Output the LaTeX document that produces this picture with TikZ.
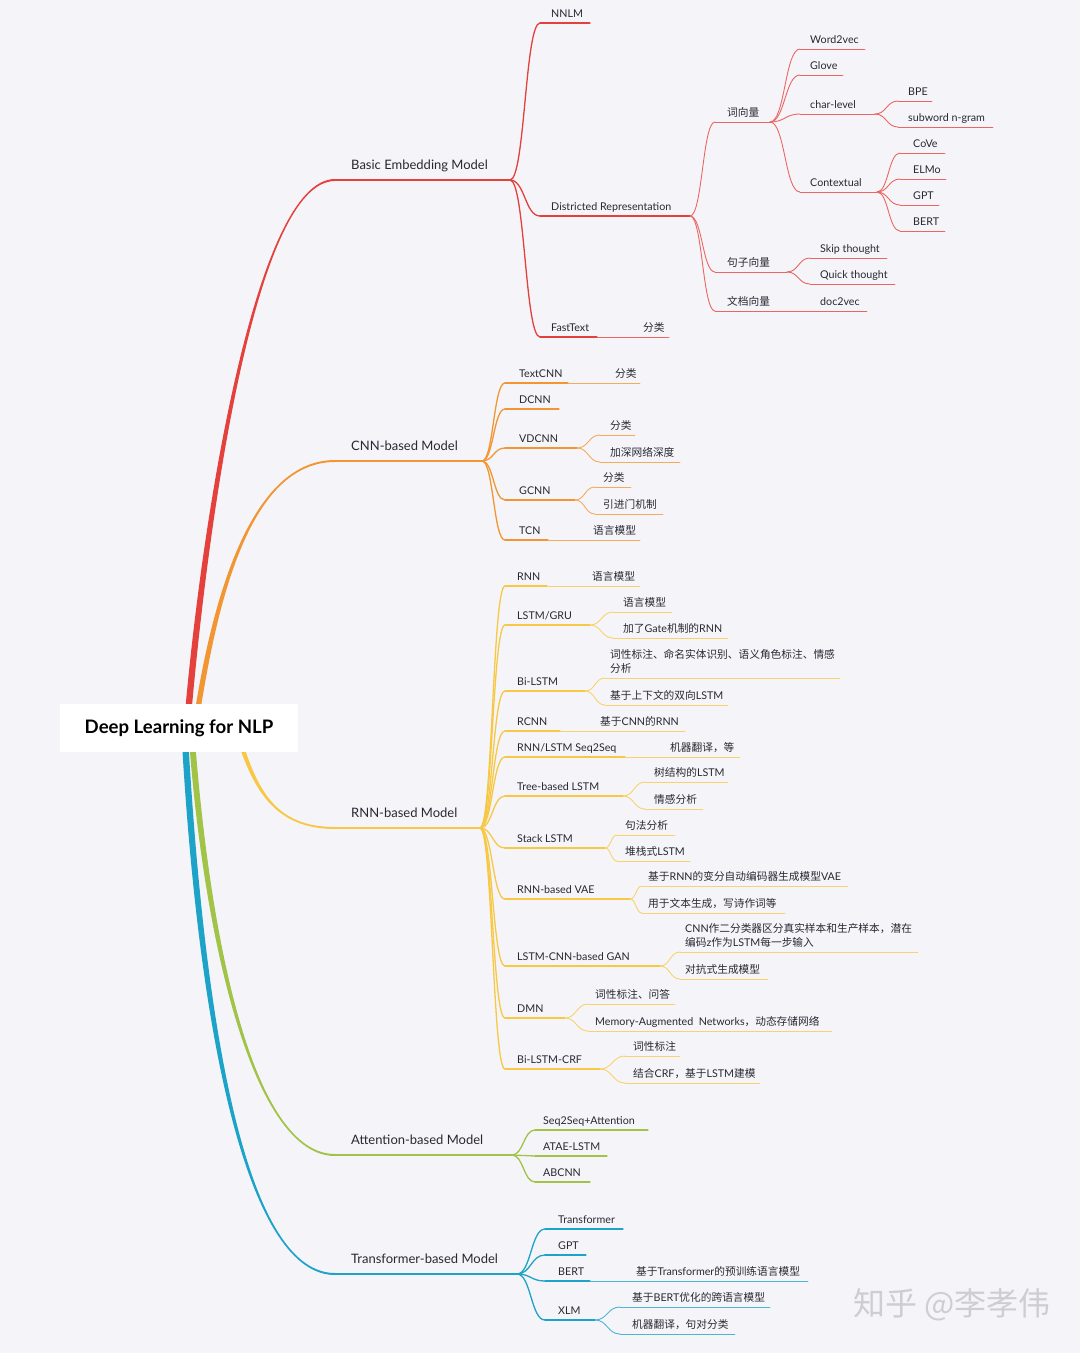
\documentclass[tikz,border=0pt]{standalone}
\usepackage{fontspec}
\setmainfont{Lato}
\newfontfamily\zhf{Noto Sans CJK SC}
\newcommand\zhs[1]{{\zhf #1}}
\usetikzlibrary{calc}
\definecolor{cR}{RGB}{228,64,60}
\definecolor{cO}{RGB}{242,150,52}
\definecolor{cY}{RGB}{246,200,70}
\definecolor{cG}{RGB}{160,195,72}
\definecolor{cB}{RGB}{30,163,200}
\definecolor{bg}{RGB}{245,245,249}
\definecolor{txt}{RGB}{40,40,50}
\definecolor{wm}{RGB}{205,205,210}
\tikzset{
  lbl/.style={anchor=base west, inner sep=0pt, yshift=6pt, text=txt, font=\fontsize{10.7}{14}\selectfont},
  lbltwo/.style={anchor=south west, inner sep=0pt, yshift=4.5pt, align=left, text=txt, font=\fontsize{10.7}{14}\selectfont},
  mlbl/.style={anchor=base west, inner sep=0pt, yshift=11pt, text=txt, font=\fontsize{13}{15}\selectfont},
  rootbox/.style={fill=white, minimum width=238pt, minimum height=48pt, inner sep=0pt, text=black, font=\fontsize{18.6}{20}\selectfont\bfseries},
  lvone/.style={line width=2pt},
  lvtwo/.style={line width=1.3pt},
  lvthree/.style={line width=0.9pt},
}
% name-based item: [node style]{name}{line style}{xs}{xe}{y}{text x}{text}
\newcommand\mmn[8][lbl]{%
  \coordinate (#2-s) at (#4,#6);
  \coordinate (#2-e) at (#5,#6);
  \draw[#3] (#2-s) -- (#2-e);
  \node[#1] (#2) at (#7,#6) {#8};}
% connector from end of parent's line to start of child's line
\newcommand\conn[3]{\draw[#1] let \p1=(#2-e), \p2=(#3-s) in
  (\p1) .. controls ({(\x1+\x2)/2},\y1) and ({(\x1+\x2)/2},\y2) .. (\p2);}
% tapered main branch
\newcommand\taper[7]{\fill[#1] ($#2+(-#6,0)$) .. controls ($#3+(-#6,0)$) and ($#4+(0,{-(#7)})$) .. ($(#5)+(0,{-(#7)})$)
  -- ($(#5)+(0,#7)$) .. controls ($#4+(0,#7)$) and ($#3+(#6,0)$) .. ($#2+(#6,0)$) -- cycle;}
\begin{document}
\begin{tikzpicture}[x=1pt,y=-1pt,line cap=round,line join=round]
\path[fill=bg] (0,0) rectangle (1080,1353);
\useasboundingbox (0,0) rectangle (1080,1353);

% ---------- main branches ----------
\mmn[mlbl]{be}{cR,lvone}{335}{510}{180}{351}{Basic Embedding Model}
\mmn[mlbl]{cnn}{cO,lvone}{335}{482}{461}{351}{CNN-based Model}
\mmn[mlbl]{rnn}{cY,lvone}{335}{480}{828}{351}{RNN-based Model}
\mmn[mlbl]{att}{cG,lvone}{335}{512}{1155}{351}{Attention-based Model}
\mmn[mlbl]{trf}{cB,lvone}{335}{517}{1274}{351}{Transformer-based Model}

\taper{cR}{(188,715)}{(205,520)}{(255,180)}{be-s}{3.2}{1}
\taper{cO}{(197,715)}{(215,600)}{(250,461)}{cnn-s}{2.7}{1}
\taper{cY}{(238,735)}{(255,790)}{(275,828)}{rnn-s}{2.3}{-1}
\taper{cG}{(192,740)}{(208,950)}{(255,1155)}{att-s}{3}{-1}
\taper{cB}{(185,740)}{(203,1050)}{(250,1274)}{trf-s}{3.2}{-1}

\node[rootbox] (root) at (179,728) {Deep Learning for NLP};

% ---------- Basic Embedding Model ----------
\mmn{nnlm}{cR,lvtwo}{540}{590}{23}{551}{NNLM}
\mmn{dr}{cR,lvtwo}{540}{690}{216}{551}{Districted Representation}
\mmn{ft}{cR,lvtwo}{540}{597}{337}{551}{FastText}
\mmn{ftc}{cR!80!white,lvthree}{604}{669}{337}{643}{\zhs{分类}}
\conn{cR,lvtwo}{be}{nnlm}
\conn{cR,lvtwo}{be}{dr}
\conn{cR,lvtwo}{be}{ft}
\conn{cR!80!white,lvthree}{ft}{ftc}

\mmn{cxl}{cR!80!white,lvthree}{715}{770}{122}{727}{\zhs{词向量}}
\mmn{jz}{cR!80!white,lvthree}{715}{787}{272}{727}{\zhs{句子向量}}
\mmn{wd}{cR!80!white,lvthree}{715}{800}{311}{727}{\zhs{文档向量}}
\mmn{dtv}{cR!80!white,lvthree}{806}{867}{311}{820}{doc2vec}
\conn{cR!80!white,lvthree}{dr}{cxl}
\conn{cR!80!white,lvthree}{dr}{jz}
\conn{cR!80!white,lvthree}{dr}{wd}
\conn{cR!80!white,lvthree}{wd}{dtv}

\mmn{wtv}{cR!80!white,lvthree}{800}{865}{49}{810}{Word2vec}
\mmn{glove}{cR!80!white,lvthree}{800}{843}{75}{810}{Glove}
\mmn{charl}{cR!80!white,lvthree}{800}{875}{114}{810}{char-level}
\mmn{ctx}{cR!80!white,lvthree}{800}{877}{192}{810}{Contextual}
\conn{cR!80!white,lvthree}{cxl}{wtv}
\conn{cR!80!white,lvthree}{cxl}{glove}
\conn{cR!80!white,lvthree}{cxl}{charl}
\conn{cR!80!white,lvthree}{cxl}{ctx}

\mmn{bpe}{cR!80!white,lvthree}{898}{932}{101}{908}{BPE}
\mmn{subw}{cR!80!white,lvthree}{898}{993}{127}{908}{subword n-gram}
\conn{cR!80!white,lvthree}{charl}{bpe}
\conn{cR!80!white,lvthree}{charl}{subw}

\mmn{cove}{cR!80!white,lvthree}{900}{945}{153}{913}{CoVe}
\mmn{elmo}{cR!80!white,lvthree}{900}{946}{179}{913}{ELMo}
\mmn{gptone}{cR!80!white,lvthree}{900}{939}{205}{913}{GPT}
\mmn{bertone}{cR!80!white,lvthree}{900}{945}{231}{913}{BERT}
\conn{cR!80!white,lvthree}{ctx}{cove}
\conn{cR!80!white,lvthree}{ctx}{elmo}
\conn{cR!80!white,lvthree}{ctx}{gptone}
\conn{cR!80!white,lvthree}{ctx}{bertone}

\mmn{skip}{cR!80!white,lvthree}{810}{887}{258}{820}{Skip thought}
\mmn{quick}{cR!80!white,lvthree}{810}{895}{284}{820}{Quick thought}
\conn{cR!80!white,lvthree}{jz}{skip}
\conn{cR!80!white,lvthree}{jz}{quick}

% ---------- CNN-based Model ----------
\mmn{tcnn}{cO,lvtwo}{505}{568}{383}{519}{TextCNN}
\mmn{tcnnc}{cO!80!white,lvthree}{575}{640}{383}{615}{\zhs{分类}}
\mmn{dcnn}{cO,lvtwo}{505}{559}{409}{519}{DCNN}
\mmn{vd}{cO,lvtwo}{505}{577}{448}{519}{VDCNN}
\mmn{vdone}{cO!80!white,lvthree}{600}{635}{435}{610}{\zhs{分类}}
\mmn{vdtwo}{cO!80!white,lvthree}{600}{680}{462}{610}{\zhs{加深网络深度}}
\mmn{gc}{cO,lvtwo}{505}{575}{500}{519}{GCNN}
\mmn{gcone}{cO!80!white,lvthree}{595}{631}{487}{603}{\zhs{分类}}
\mmn{gctwo}{cO!80!white,lvthree}{595}{663}{514}{603}{\zhs{引进门机制}}
\mmn{tcn}{cO,lvtwo}{505}{548}{540}{519}{TCN}
\mmn{tcnc}{cO!80!white,lvthree}{555}{640}{540}{593}{\zhs{语言模型}}
\conn{cO,lvtwo}{cnn}{tcnn}
\conn{cO,lvtwo}{cnn}{dcnn}
\conn{cO,lvtwo}{cnn}{vd}
\conn{cO,lvtwo}{cnn}{gc}
\conn{cO,lvtwo}{cnn}{tcn}
\conn{cO!80!white,lvthree}{tcnn}{tcnnc}
\conn{cO!80!white,lvthree}{vd}{vdone}
\conn{cO!80!white,lvthree}{vd}{vdtwo}
\conn{cO!80!white,lvthree}{gc}{gcone}
\conn{cO!80!white,lvthree}{gc}{gctwo}
\conn{cO!80!white,lvthree}{tcn}{tcnc}

% ---------- RNN-based Model ----------
\mmn{rnnone}{cY,lvtwo}{505}{547}{586}{517}{RNN}
\mmn{rnnonec}{cY!80!white,lvthree}{553}{640}{586}{592}{\zhs{语言模型}}
\mmn{lstm}{cY,lvtwo}{505}{590}{625}{517}{LSTM/GRU}
\mmn{lstmone}{cY!80!white,lvthree}{613}{672}{612}{623}{\zhs{语言模型}}
\mmn{lstmtwo}{cY!80!white,lvthree}{613}{728}{638}{623}{\zhs{加了}Gate\zhs{机制的}RNN}
\mmn{bil}{cY,lvtwo}{505}{585}{691}{517}{Bi-LSTM}
\mmn[lbltwo]{bilone}{cY!80!white,lvthree}{605}{840}{678}{610}{\zhs{词性标注、命名实体识别、语义角色标注、情感}\\\zhs{分析}}
\mmn{biltwo}{cY!80!white,lvthree}{605}{728}{705}{610}{\zhs{基于上下文的双向}LSTM}
\mmn{rcnn}{cY,lvtwo}{505}{560}{731}{517}{RCNN}
\mmn{rcnnc}{cY!80!white,lvthree}{566}{685}{731}{600}{\zhs{基于}CNN\zhs{的}RNN}
\mmn{sts}{cY,lvtwo}{505}{625}{757}{517}{RNN/LSTM Seq2Seq}
\mmn{stsc}{cY!80!white,lvthree}{632}{740}{757}{670}{\zhs{机器翻译，等}}
\mmn{tree}{cY,lvtwo}{505}{623}{796}{517}{Tree-based LSTM}
\mmn{treeone}{cY!80!white,lvthree}{645}{728}{782}{654}{\zhs{树结构的}LSTM}
\mmn{treetwo}{cY!80!white,lvthree}{645}{703}{809}{654}{\zhs{情感分析}}
\mmn{stk}{cY,lvtwo}{505}{605}{848}{517}{Stack LSTM}
\mmn{stkone}{cY!80!white,lvthree}{617}{675}{835}{625}{\zhs{句法分析}}
\mmn{stktwo}{cY!80!white,lvthree}{617}{690}{861}{625}{\zhs{堆栈式}LSTM}
\mmn{vae}{cY,lvtwo}{505}{630}{899}{517}{RNN-based VAE}
\mmn{vaeone}{cY!80!white,lvthree}{642}{848}{886}{648}{\zhs{基于}RNN\zhs{的变分自动编码器生成模型}VAE}
\mmn{vaetwo}{cY!80!white,lvthree}{642}{785}{913}{648}{\zhs{用于文本生成，写诗作词等}}
\mmn{gan}{cY,lvtwo}{505}{660}{966}{517}{LSTM-CNN-based GAN}
\mmn[lbltwo]{ganone}{cY!80!white,lvthree}{680}{918}{952}{685}{CNN\zhs{作二分类器区分真实样本和生产样本，潜在}\\\zhs{编码}z\zhs{作为}LSTM\zhs{每一步输入}}
\mmn{gantwo}{cY!80!white,lvthree}{680}{768}{979}{685}{\zhs{对抗式生成模型}}
\mmn{dmn}{cY,lvtwo}{505}{565}{1018}{517}{DMN}
\mmn{dmnone}{cY!80!white,lvthree}{588}{675}{1004}{595}{\zhs{词性标注、问答}}
\mmn{dmntwo}{cY!80!white,lvthree}{588}{832}{1031}{595}{Memory-Augmented\ \ Networks\zhs{，动态存储网络}}
\mmn{crf}{cY,lvtwo}{505}{600}{1069}{517}{Bi-LSTM-CRF}
\mmn{crfone}{cY!80!white,lvthree}{625}{680}{1056}{633}{\zhs{词性标注}}
\mmn{crftwo}{cY!80!white,lvthree}{625}{760}{1083}{633}{\zhs{结合}CRF\zhs{，基于}LSTM\zhs{建模}}
\foreach \c in {rnnone,lstm,bil,rcnn,sts,tree,stk,vae,gan,dmn,crf}{\conn{cY,lvtwo}{rnn}{\c}}
\conn{cY!80!white,lvthree}{rnnone}{rnnonec}
\conn{cY!80!white,lvthree}{lstm}{lstmone}
\conn{cY!80!white,lvthree}{lstm}{lstmtwo}
\conn{cY!80!white,lvthree}{bil}{bilone}
\conn{cY!80!white,lvthree}{bil}{biltwo}
\conn{cY!80!white,lvthree}{rcnn}{rcnnc}
\conn{cY!80!white,lvthree}{sts}{stsc}
\conn{cY!80!white,lvthree}{tree}{treeone}
\conn{cY!80!white,lvthree}{tree}{treetwo}
\conn{cY!80!white,lvthree}{stk}{stkone}
\conn{cY!80!white,lvthree}{stk}{stktwo}
\conn{cY!80!white,lvthree}{vae}{vaeone}
\conn{cY!80!white,lvthree}{vae}{vaetwo}
\conn{cY!80!white,lvthree}{gan}{ganone}
\conn{cY!80!white,lvthree}{gan}{gantwo}
\conn{cY!80!white,lvthree}{dmn}{dmnone}
\conn{cY!80!white,lvthree}{dmn}{dmntwo}
\conn{cY!80!white,lvthree}{crf}{crfone}
\conn{cY!80!white,lvthree}{crf}{crftwo}

% ---------- Attention-based Model ----------
\mmn{ssa}{cG,lvtwo}{535}{648}{1130}{543}{Seq2Seq+Attention}
\mmn{atae}{cG,lvtwo}{535}{607}{1156}{543}{ATAE-LSTM}
\mmn{abcnn}{cG,lvtwo}{535}{590}{1182}{543}{ABCNN}
\conn{cG,lvtwo}{att}{ssa}
\conn{cG,lvtwo}{att}{atae}
\conn{cG,lvtwo}{att}{abcnn}

% ---------- Transformer-based Model ----------
\mmn{tf}{cB,lvtwo}{545}{623}{1229}{558}{Transformer}
\mmn{gpttwo}{cB,lvtwo}{545}{586}{1255}{558}{GPT}
\mmn{berttwo}{cB,lvtwo}{545}{590}{1281}{558}{BERT}
\mmn{berttwoc}{cB!80!white,lvthree}{597}{808}{1281}{636}{\zhs{基于}Transformer\zhs{的预训练语言模型}}
\mmn{xlm}{cB,lvtwo}{545}{595}{1320}{558}{XLM}
\mmn{xlmone}{cB!80!white,lvthree}{620}{770}{1307}{632}{\zhs{基于}BERT\zhs{优化的跨语言模型}}
\mmn{xlmtwo}{cB!80!white,lvthree}{620}{735}{1334}{632}{\zhs{机器翻译，句对分类}}
\conn{cB,lvtwo}{trf}{tf}
\conn{cB,lvtwo}{trf}{gpttwo}
\conn{cB,lvtwo}{trf}{berttwo}
\conn{cB,lvtwo}{trf}{xlm}
\conn{cB!80!white,lvthree}{berttwo}{berttwoc}
\conn{cB!80!white,lvthree}{xlm}{xlmone}
\conn{cB!80!white,lvthree}{xlm}{xlmtwo}

% ---------- watermark ----------
\node[text=wm, inner sep=0pt, font=\zhf\fontsize{32}{34}\selectfont] (wmark) at (952,1305) {知乎 @李孝伟};
\end{tikzpicture}
\end{document}
